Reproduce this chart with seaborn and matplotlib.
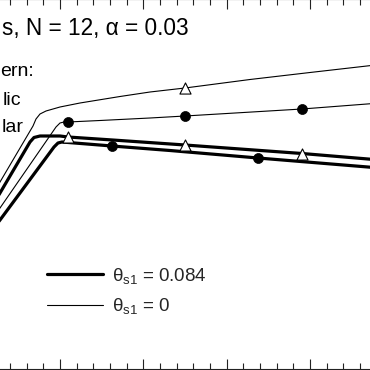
import matplotlib
matplotlib.use("Agg")
import matplotlib.pyplot as plt
import seaborn as sns
from matplotlib.lines import Line2D
from matplotlib.ticker import MultipleLocator

# ---- data ----
x_A = [-0.84, -0.72, -0.324, -0.288, -0.24, -0.168, 0.0, 0.24, 0.72, 1.08, 1.5, 2.28, 3.0, 3.84]
y_A = [1.70, 1.87, 2.43, 2.50, 2.55, 2.58, 2.62, 2.66, 2.725, 2.77, 2.81, 2.895, 2.965, 3.045]

x_B = [-0.84, -0.72, -0.36, -0.312, -0.24, 0.0, 0.096, 0.72, 1.5, 2.904, 3.84]
y_B = [1.59, 1.76, 2.27, 2.315, 2.33, 2.33, 2.32, 2.285, 2.24, 2.155, 2.09]

x_C = [-0.84, -0.72, -0.048, 0.0, 0.048, 0.096, 0.48, 1.08, 1.5, 2.904, 3.84]
y_C = [1.47, 1.61, 2.42, 2.46, 2.47, 2.47, 2.485, 2.51, 2.53, 2.60, 2.66]

x_D = [-0.84, -0.72, -0.072, -0.024, 0.024, 0.624, 1.32, 2.376, 3.84]
y_D = [1.36, 1.49, 2.22, 2.26, 2.27, 2.23, 2.185, 2.11, 2.01]

tri_A_x = [1.5]
tri_A_y = [2.81]
tri_B_x = [0.1, 1.5, 2.9]
tri_B_y = [2.32, 2.24, 2.155]
circ_C_x = [0.1, 1.5, 2.9]
circ_C_y = [2.47, 2.53, 2.60]
circ_D_x = [0.62, 2.38]
circ_D_y = [2.23, 2.11]

title_text = "s, N = 12, \u03b1 = 0.03"
pattern_texts = ["ern:", "lic", "lar"]
legend_labels = [r"$\theta_{\rm s1}$ = 0.084", r"$\theta_{\rm s1}$ = 0"]

# ---- style ----
sns.set_theme(style="white")
plt.rcParams['font.family'] = ['Liberation Sans', 'DejaVu Sans']
plt.rcParams['mathtext.fontset'] = 'custom'
plt.rcParams['mathtext.rm'] = 'Liberation Sans'
plt.rcParams['mathtext.it'] = 'Liberation Sans:italic'
plt.rcParams['mathtext.default'] = 'regular'

W = H = 370.0
fig = plt.figure(figsize=(3.7, 3.7), dpi=100)
fig.patch.set_facecolor('white')

# axes extends beyond the visible picture (cropped figure)
left_px, right_px = -100.0, 470.0
top_px, bot_px = -0.5, 369.0
ax = fig.add_axes([left_px / W, (H - bot_px) / H, (right_px - left_px) / W, (bot_px - top_px) / H])
ax.set_facecolor('white')

thick, thin = 2.3, 0.8
sns.lineplot(x=x_A, y=y_A, sort=False, estimator=None, color='black', lw=thin, ax=ax)
sns.lineplot(x=x_B, y=y_B, sort=False, estimator=None, color='black', lw=thick, ax=ax)
sns.lineplot(x=x_C, y=y_C, sort=False, estimator=None, color='black', lw=thin, ax=ax)
sns.lineplot(x=x_D, y=y_D, sort=False, estimator=None, color='black', lw=thick, ax=ax)

sns.scatterplot(x=tri_A_x + tri_B_x, y=tri_A_y + tri_B_y, marker='^', s=64,
                facecolor='white', edgecolor='black', linewidth=0.8, zorder=5, ax=ax)
sns.scatterplot(x=circ_C_x + circ_D_x, y=circ_C_y + circ_D_y, marker='o', s=52,
                color='black', edgecolor='black', linewidth=0.5, zorder=5, ax=ax)

x0 = (left_px - 60) / 83.333
x1 = (right_px - 60) / 83.333
ax.set_xlim(x0, x1)
ax.set_ylim(0, (369 - top_px) / 100)
ax.xaxis.set_major_locator(MultipleLocator(1))
ax.xaxis.set_minor_locator(MultipleLocator(0.2))
ax.tick_params(axis='x', which='both', direction='in', top=True, bottom=True,
               labelbottom=False, labeltop=False, color='#222222', width=0.8)
ax.tick_params(axis='x', which='major', length=7.2)
ax.tick_params(axis='x', which='minor', length=4.3)
ax.tick_params(axis='y', left=False, right=False, labelleft=False)
for s in ax.spines.values():
    s.set_color('#222222')
    s.set_linewidth(0.8)
ax.set_xlabel('')
ax.set_ylabel('')

def fx(px):
    return px / W

def fy(py):
    return (H - py) / H

fig.text(fx(2), fy(35), title_text, fontsize=16.3, ha='left', va='baseline', color='black')
fig.text(fx(0), fy(76.5), pattern_texts[0], fontsize=14, ha='left', va='baseline', color='black')
fig.text(fx(3), fy(105), pattern_texts[1], fontsize=14, ha='left', va='baseline', color='black')
fig.text(fx(1.5), fy(132), pattern_texts[2], fontsize=14, ha='left', va='baseline', color='black')

handles = [Line2D([], [], color='black', lw=thick), Line2D([], [], color='black', lw=thin)]
ax.legend(handles=handles, labels=legend_labels, loc='center left',
          bbox_to_anchor=(fx(47), fy(291)), bbox_transform=fig.transFigure,
          frameon=False, fontsize=13.5, handlelength=2.99, handletextpad=0.48,
          labelspacing=0.55, borderpad=0, borderaxespad=0)

fig.savefig('out.png', dpi=100, facecolor='white')
